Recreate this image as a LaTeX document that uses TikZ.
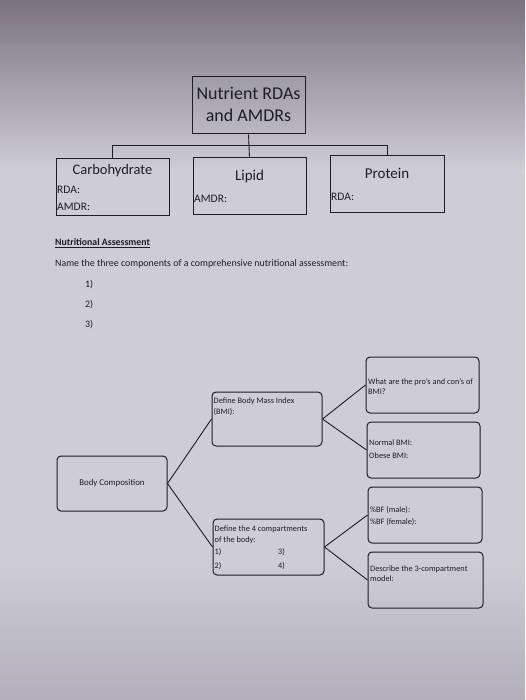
\documentclass[tikz,border=0pt]{standalone}
\usepackage{fontspec}
\setmainfont{Carlito}
\definecolor{paper}{RGB}{206,204,213}
\definecolor{paperdark}{RGB}{122,115,126}
\definecolor{paperlow}{RGB}{178,175,186}
\definecolor{ink}{RGB}{30,30,36}
\tikzset{
  sqbox/.style={draw=ink, line width=1pt, inner sep=0pt},
  rbox/.style={draw=ink, line width=1pt, rounded corners=4pt, inner sep=0pt},
  conn/.style={draw=ink, line width=0.9pt},
  lbl/.style={text=ink, inner sep=0pt, anchor=base west},
  ttl/.style={text=ink, inner sep=0pt, anchor=base},
  fbig/.style={font=\fontsize{18}{21}\selectfont},
  fmid/.style={font=\fontsize{15}{18}\selectfont},
  fcarb/.style={font=\fontsize{14.5}{17}\selectfont},
  fsm/.style={font=\fontsize{11.5}{13}\selectfont},
  ftext/.style={font=\fontsize{9.9}{11}\selectfont},
  ftiny/.style={font=\fontsize{8.3}{9}\selectfont},
  fbc/.style={font=\fontsize{8.8}{10}\selectfont},
}
\begin{document}
\begin{tikzpicture}[x=1pt,y=-1pt]
\useasboundingbox (0,0) rectangle (525,700);
% paper
\fill[paper] (0,0) rectangle (525,700);
\shade[top color=paperdark, bottom color=paper] (0,0) rectangle (525,170);
\shade[top color=paper, bottom color=paperlow] (0,560) rectangle (525,700);

% ---- top tree
\node[sqbox, minimum width=113, minimum height=57] (nut) at (248.5,105.5) {};
\node[ttl, fbig] (nut1) at (248.5,100) {Nutrient RDAs};
\node[ttl, fbig] (nut2) at (248.5,122) {and AMDRs};

\node[sqbox, minimum width=113, minimum height=57] (carb) at (112.5,187.5) {};
\node[ttl, fcarb] (carbt) at (112.5,175) {Carbohydrate};
\node[lbl, fsm] (carbr) at (57,194) {RDA:};
\node[lbl, fsm] (carba) at (57,211) {AMDR:};

\node[sqbox, minimum width=113, minimum height=57] (lip) at (249.5,186.5) {};
\node[ttl, fmid] (lipt) at (249.5,181) {Lipid};
\node[lbl, fsm] (lipa) at (194,203) {AMDR:};

\node[sqbox, minimum width=114, minimum height=57] (prot) at (387,184.5) {};
\node[ttl, fmid] (prott) at (387,179) {Protein};
\node[lbl, fsm] (protr) at (331,201) {RDA:};

\draw[conn] (nut.south) -- (lip.north);
\draw[conn] (carb.north) -- ++(0,-13) -| (prot.north);

% ---- text section
\node[lbl, font=\fontsize{9.8}{11}\selectfont\bfseries] (na) at (55,246) {\underline{Nutritional Assessment}};
\node[lbl, ftext] (q) at (55,266) {Name the three components of a comprehensive nutritional assessment:};
\node[lbl, ftext] (q1) at (85,287) {1)};
\node[lbl, ftext] (q2) at (85,307) {2)};
\node[lbl, ftext] (q3) at (85,327) {3)};

% ---- lower tree
\node[rbox, minimum width=110, minimum height=55] (bc) at (112,483.5) {};
\node[text=ink, inner sep=0pt, fbc] (bct) at (112,483.5) {Body Composition};

\node[rbox, minimum width=110, minimum height=54] (bmi) at (267,419) {};
\node[lbl, ftiny] (bmi1) at (213.5,403) {Define Body Mass Index};
\node[lbl, ftiny] (bmi2) at (213.5,414) {(BMI):};

\node[rbox, minimum width=113, minimum height=56] (what) at (422.5,385) {};
\node[lbl, ftiny] (what1) at (368,384) {What are the pro's and con's of};
\node[lbl, ftiny] (what2) at (368,394) {BMI?};

\node[rbox, minimum width=113, minimum height=56] (norm) at (423.5,450) {};
\node[lbl, ftiny] (norm1) at (369,445) {Normal BMI:};
\node[lbl, ftiny] (norm2) at (369,458) {Obese BMI:};

\node[rbox, minimum width=111, minimum height=56] (comp) at (268.5,547) {};
\node[lbl, ftiny] (comp1) at (214.5,531) {Define the 4 compartments};
\node[lbl, ftiny] (comp2) at (214.5,542) {of the body:};
\node[lbl, ftiny] (comp3) at (214.5,554) {1)};
\node[lbl, ftiny] (comp4) at (214.5,568) {2)};
\node[lbl, ftiny] (comp5) at (278,554) {3)};
\node[lbl, ftiny] (comp6) at (278,568) {4)};

\node[rbox, minimum width=114, minimum height=56] (bf) at (425,515) {};
\node[lbl, ftiny] (bf1) at (370,512) {\%BF (male):};
\node[lbl, ftiny] (bf2) at (370,524) {\%BF (female):};

\node[rbox, minimum width=115, minimum height=56] (desc) at (425.5,580) {};
\node[lbl, ftiny] (desc1) at (370,571) {Describe the 3-compartment};
\node[lbl, ftiny] (desc2) at (370,581) {model:};

\draw[conn] (bc.east) -- (bmi.west);
\draw[conn] (bc.east) -- (comp.west);
\draw[conn] (bmi.east) -- (what.west);
\draw[conn] (bmi.east) -- (norm.west);
\draw[conn] (comp.east) -- (bf.west);
\draw[conn] (comp.east) -- (desc.west);
\end{tikzpicture}
\end{document}
